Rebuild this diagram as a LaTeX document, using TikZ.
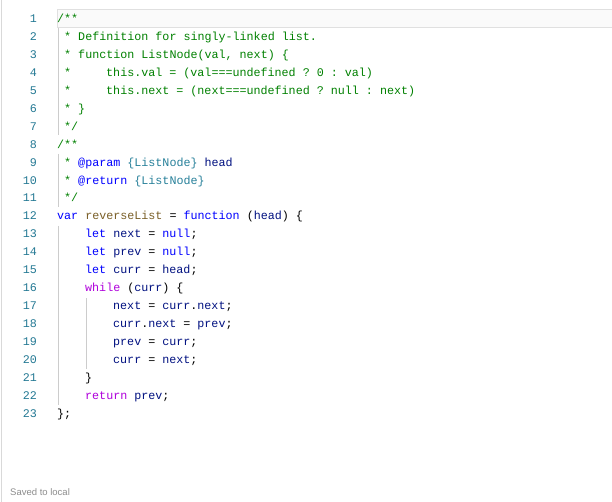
\documentclass[tikz,border=0pt]{standalone}
\usepackage{fontspec}
\setmainfont{Liberation Sans}
\setmonofont{Liberation Mono}
\definecolor{cmt}{HTML}{008000}
\definecolor{kw}{HTML}{0000FF}
\definecolor{idf}{HTML}{001080}
\definecolor{fn}{HTML}{795E26}
\definecolor{ctl}{HTML}{AF00DB}
\definecolor{typ}{HTML}{267F99}
\definecolor{lno}{HTML}{237893}
\newlength{\cw}\setlength{\cw}{7pt}
\newcommand{\ind}[1]{\hspace*{#1\cw}}
\newcommand{\C}[1]{\textcolor{cmt}{#1}}
\newcommand{\K}[1]{\textcolor{kw}{#1}}
\newcommand{\V}[1]{\textcolor{idf}{#1}}
\newcommand{\F}[1]{\textcolor{fn}{#1}}
\newcommand{\X}[1]{\textcolor{ctl}{#1}}
\newcommand{\T}[1]{\textcolor{typ}{#1}}
\tikzset{
  code/.style={anchor=base west, inner sep=0pt, font=\ttfamily\fontsize{11.7}{12}\selectfont},
  num/.style={anchor=base east, inner sep=0pt, text=lno, font=\ttfamily\fontsize{11.7}{12}\selectfont},
  guide/.style={draw=black!20, line width=0.8pt}
}
\begin{document}
\begin{tikzpicture}[x=1pt, y=-1pt]
\useasboundingbox (0,0) rectangle (612,502);
\draw[black!15] (1.5,0) -- (1.5,502);
% current line
\draw[black!12, fill=black!2] (57,9) rectangle (612,27);
% line numbers
\foreach \i in {1,...,23}
  \node[num] (n\i) at (37,{22.5+17.95*(\i-1)}) {\i};
% code lines
\node[code] (l1) at (57,22.5) {\C{/**}};
\node[code] (l2) at (57,40.5) {\C{\ind{1}* Definition for singly-linked list.}};
\node[code] (l3) at (57,58.4) {\C{\ind{1}* function ListNode(val, next) \{}};
\node[code] (l4) at (57,76.4) {\C{\ind{1}*\ind{5}this.val = (val===undefined ? 0 : val)}};
\node[code] (l5) at (57,94.3) {\C{\ind{1}*\ind{5}this.next = (next===undefined ? null : next)}};
\node[code] (l6) at (57,112.3) {\C{\ind{1}* \}}};
\node[code] (l7) at (57,130.2) {\C{\ind{1}*/}};
\node[code] (l8) at (57,148.2) {\C{/**}};
\node[code] (l9) at (57,166.1) {\C{\ind{1}* }\K{@param} \T{\{ListNode\}} \V{head}};
\node[code] (l10) at (57,184.1) {\C{\ind{1}* }\K{@return} \T{\{ListNode\}}};
\node[code] (l11) at (57,202) {\C{\ind{1}*/}};
\node[code] (l12) at (57,220) {\K{var} \F{reverseList} = \K{function} (\V{head}) \{};
\node[code] (l13) at (57,237.9) {\ind{4}\K{let} \V{next} = \K{null};};
\node[code] (l14) at (57,255.9) {\ind{4}\K{let} \V{prev} = \K{null};};
\node[code] (l15) at (57,273.8) {\ind{4}\K{let} \V{curr} = \V{head};};
\node[code] (l16) at (57,291.8) {\ind{4}\X{while} (\V{curr}) \{};
\node[code] (l17) at (57,309.7) {\ind{8}\V{next} = \V{curr}.\V{next};};
\node[code] (l18) at (57,327.7) {\ind{8}\V{curr}.\V{next} = \V{prev};};
\node[code] (l19) at (57,345.6) {\ind{8}\V{prev} = \V{curr};};
\node[code] (l20) at (57,363.6) {\ind{8}\V{curr} = \V{next};};
\node[code] (l21) at (57,381.5) {\ind{4}\}};
\node[code] (l22) at (57,399.5) {\ind{4}\X{return} \V{prev};};
\node[code] (l23) at (57,417.4) {\};};
% indent guides
\draw[guide] (58,28) -- (58,135);
\draw[guide] (58,154) -- (58,207);
\draw[guide] (58,226) -- (58,405);
\draw[guide] (86,298) -- (86,369);
\node[anchor=base west, inner sep=0pt, text=black!45, font=\fontsize{9.5}{11}\selectfont] (saved) at (10,495) {Saved to local};
\end{tikzpicture}
\end{document}
